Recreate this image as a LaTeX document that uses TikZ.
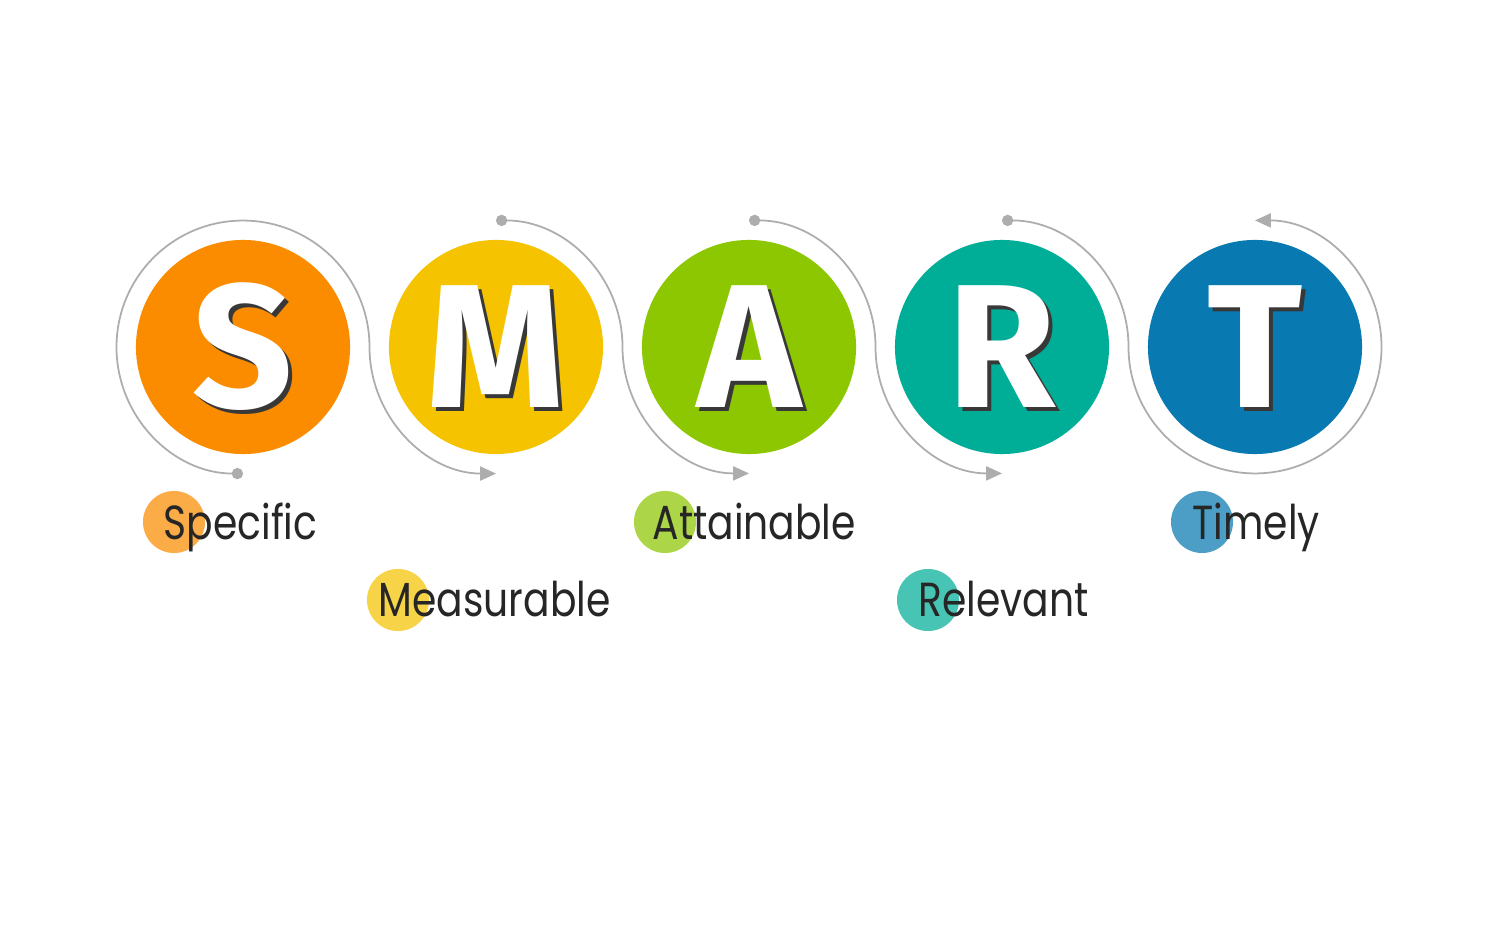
\documentclass[tikz,border=0pt]{standalone}
\usepackage{fontspec}
\setmainfont{Fira Sans}
\newfontfamily\wordfont{Poppins}[FakeStretch=0.82]
\usetikzlibrary{arrows.meta}
\definecolor{sorange}{HTML}{FB8C00}
\definecolor{myellow}{HTML}{F5C300}
\definecolor{agreen}{HTML}{8DC701}
\definecolor{rteal}{HTML}{00AE98}
\definecolor{tblue}{HTML}{0879B1}
\begin{document}
\begin{tikzpicture}[x=0.01cm,y=0.01cm]
  \tikzstyle{letter}=[circle,minimum size=2.14cm,inner sep=0pt]
  \tikzstyle{glyph}=[inner sep=0pt,font=\fontsize{50}{50}\selectfont\bfseries,text=white]
  \tikzstyle{shade}=[glyph,text=black!78]
  \tikzstyle{dot}=[circle,minimum size=0.62cm,inner sep=0pt,fill opacity=0.72]
  \tikzstyle{word}=[anchor=base west,inner sep=0pt,font=\wordfont\fontsize{13.6}{14}\selectfont,text=black!85]
  \tikzstyle{ring}=[draw=black!32,line width=0.5pt,{Circle[length=3.2pt]}-{Triangle[length=4.5pt,width=4pt]}]
  \useasboundingbox (0,0) rectangle (1500,945);
  \fill[white] (0,0) rectangle (1500,945);
  % big circles
  \node[letter,fill=sorange] (S) at (243,598)  {};
  \node[letter,fill=myellow] (M) at (496,598)  {};
  \node[letter,fill=agreen]  (A) at (749,598)  {};
  \node[letter,fill=rteal]   (R) at (1002,598) {};
  \node[letter,fill=tblue]   (T) at (1255,598) {};
  % letters with shadow
  \node[shade] (Sshade) at ([shift={(4,-4)}]S.center) {S};
  \node[glyph] (Sglyph) at (S.center) {S};
  \node[shade] (Mshade) at ([shift={(4,-4)}]M.center) {M};
  \node[glyph] (Mglyph) at (M.center) {M};
  \node[shade] (Ashade) at ([shift={(4,-4)}]A.center) {A};
  \node[glyph] (Aglyph) at (A.center) {A};
  \node[shade] (Rshade) at ([shift={(4,-4)}]R.center) {R};
  \node[glyph] (Rglyph) at (R.center) {R};
  \node[shade] (Tshade) at ([shift={(4,-4)}]T.center) {T};
  \node[glyph] (Tglyph) at (T.center) {T};
  % rings
  \draw[ring] ([yshift=-1.265cm]S.center) arc[start angle=270,end angle=0,radius=126.5]
    arc[start angle=180,end angle=270,radius=126.5];
  \draw[ring] ([yshift=1.265cm]M.center) arc[start angle=90,end angle=0,radius=126.5]
    arc[start angle=180,end angle=270,radius=126.5];
  \draw[ring] ([yshift=1.265cm]A.center) arc[start angle=90,end angle=0,radius=126.5]
    arc[start angle=180,end angle=270,radius=126.5];
  \draw[ring] ([yshift=1.265cm]R.center) arc[start angle=90,end angle=0,radius=126.5]
    arc[start angle=180,end angle=450,radius=126.5];
  % words
  \node[dot,fill=sorange] (Sdot) at (174,423) {};
  \node[dot,fill=myellow] (Mdot) at (398,345) {};
  \node[dot,fill=agreen]  (Adot) at (665,423) {};
  \node[dot,fill=rteal]   (Rdot) at (928,345) {};
  \node[dot,fill=tblue]   (Tdot) at (1202,423) {};
  \node[word] (Sword) at (163,405)  {Specific};
  \node[word] (Mword) at (378,328)  {Measurable};
  \node[word] (Aword) at (652,405)  {Attainable};
  \node[word] (Rword) at (918,328)  {Relevant};
  \node[word] (Tword) at (1192,405) {Timely};
\end{tikzpicture}
\end{document}
